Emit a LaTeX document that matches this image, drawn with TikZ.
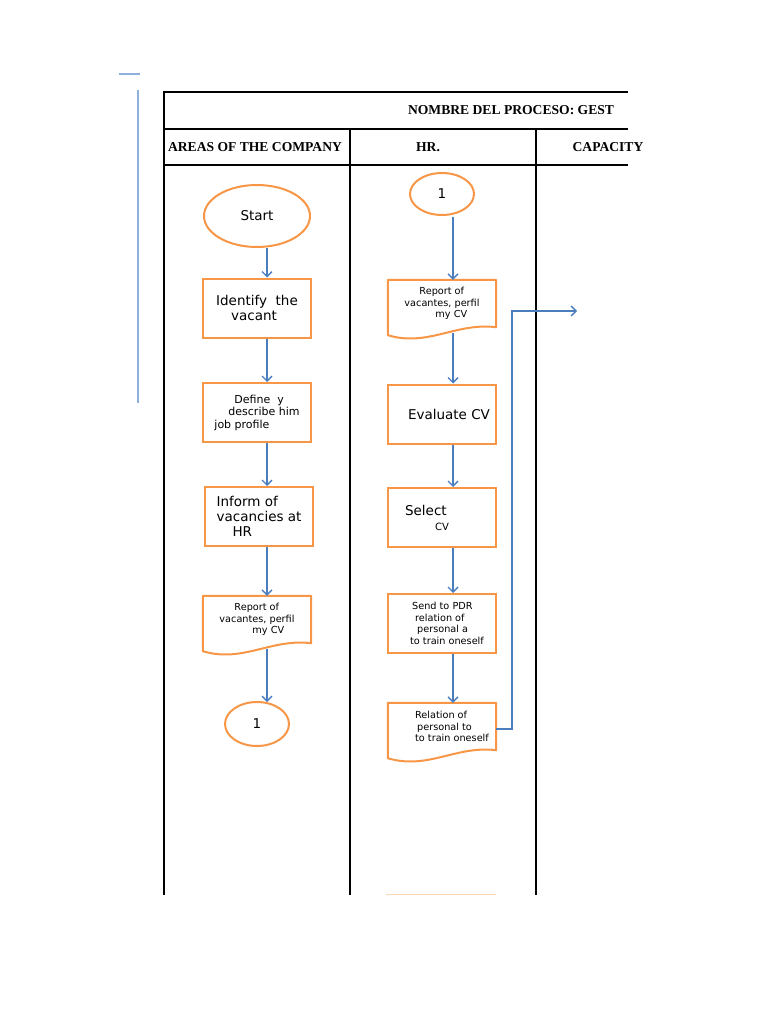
\documentclass[tikz,border=0pt]{standalone}
\usepackage{fontspec}
\newfontfamily\flowfont{DejaVu Sans}
\newfontfamily\headfont{Liberation Serif}
\usetikzlibrary{shapes.geometric,arrows.meta,calc}
\definecolor{boxorange}{HTML}{F79646}
\definecolor{linkblue}{HTML}{4A7EBF}
\definecolor{paleblue}{HTML}{8FB0DA}
\definecolor{paleorange}{HTML}{FCD5B4}
\newcommand{\docoutline}[1]{\draw[docline] ([yshift=-8pt]#1.south west) -- (#1.north west) -- (#1.north east) -- (#1.south east) .. controls ([xshift=-40pt,yshift=5pt]#1.south east) and ([xshift=40pt,yshift=-20pt]#1.south west) .. ([yshift=-8pt]#1.south west) -- cycle;}
\begin{document}
\begin{tikzpicture}[x=1pt,y=-1pt,
 tableline/.style={black,line width=1.8pt},
 heading/.style={font=\headfont\bfseries\fontsize{13.6}{15}\selectfont,inner sep=0},
 procbox/.style={draw=boxorange,line width=2pt,rectangle,minimum width=108pt,minimum height=59pt,inner sep=0,align=left},
 docbox/.style={rectangle,minimum width=108pt,minimum height=47pt,inner sep=0,align=left},
 docline/.style={draw=boxorange,line width=2pt,line join=round},
 terminal/.style={draw=boxorange,line width=2pt,ellipse,inner sep=0},
 bigtext/.style={font=\flowfont\fontsize{13.5}{15}\selectfont},
 midtext/.style={font=\flowfont\fontsize{11}{12.5}\selectfont},
 smalltext/.style={font=\flowfont\fontsize{9.7}{11.7}\selectfont},
 flow/.style={linkblue,line width=1.2pt,-{Straight Barb[length=5pt,width=10pt,line width=1.4pt]}},
 deco/.style={paleblue,line width=1.2pt},
]
\useasboundingbox (0,0) rectangle (768,1024);

% decorative lines at the left
\draw[deco] (119,74) -- (140,74);
\draw[deco] (138,90) -- (138,403);

% table
\draw[tableline] (628,92) -- (164,92) -- (164,895);
\draw[tableline] (164,129) -- (628,129);
\draw[tableline] (164,165) -- (628,165);
\draw[tableline] (350,129) -- (350,895);
\draw[tableline] (536,129) -- (536,895);
\node[heading] (title) at (511,110) {NOMBRE DEL PROCESO: GEST};
\node[heading] (areas) at (255,147) {AREAS OF THE COMPANY};
\node[heading] (hr) at (428,147) {HR.};
\node[heading] (capacity) at (608,147) {CAPACITY};

% left column
\node[terminal,minimum width=106pt,minimum height=62pt,bigtext] (start) at (257,216) {Start};
\node[procbox,bigtext] (identify) at (257,308) {Identify\ \ the\\\hspace*{15pt}vacant};
\node[procbox,midtext] (define) at (257,412.5) {\hspace*{20pt}Define\ \ y\\\hspace*{14pt}describe him\\job profile};
\node[procbox,bigtext] (inform) at (259,516.5) {Inform of\\vacancies at\\\hspace*{16pt}HR};
\node[docbox,smalltext] (report1) at (257,619.5) {\hspace*{15pt}Report of\\vacantes, perfil\\\hspace*{33pt}my CV};
\docoutline{report1}
\node[terminal,minimum width=64pt,minimum height=44pt,bigtext] (link1) at (257,724) {1};

% HR column
\node[terminal,minimum width=64pt,minimum height=42pt,bigtext] (link2) at (442,194) {1};
\node[docbox,smalltext] (report2) at (442,303.5) {\hspace*{15pt}Report of\\vacantes, perfil\\\hspace*{31pt}my CV};
\docoutline{report2}
\node[procbox,bigtext] (evaluate) at (442,414) {\hspace*{14pt}Evaluate CV};
\node[procbox,bigtext] (select) at (442,517.5) {Select\\\hspace*{30pt}{\fontsize{10}{12}\selectfont CV}\hspace*{30pt}};
\node[procbox,smalltext] (send) at (442,623.5) {\hspace*{12pt}Send to PDR\\\hspace*{15pt}relation of\\\hspace*{17pt}personal a\\\hspace*{10pt}to train oneself};
\node[docbox,smalltext] (relation) at (442,726.5) {\hspace*{20pt}Relation of\\\hspace*{22pt}personal to\\\hspace*{20pt}to train oneself};
\docoutline{relation}
\coordinate (capin) at (577,311);

% connectors, left column
\draw[flow] ([xshift=10pt]start.south) -- ([xshift=10pt]identify.north);
\draw[flow] ([xshift=10pt]identify.south) -- ([xshift=10pt]define.north);
\draw[flow] ([xshift=10pt]define.south) -- ([xshift=8pt]inform.north);
\draw[flow] ([xshift=8pt]inform.south) -- ([xshift=10pt]report1.north);
\draw[flow] ([xshift=10pt,yshift=-6pt]report1.south) -- ([xshift=10pt,yshift=-1pt]link1.north);

% connectors, HR column
\draw[flow] ([xshift=11pt,yshift=-1pt]link2.south) -- ([xshift=11pt]report2.north);
\draw[flow] ([xshift=11pt,yshift=-6pt]report2.south) -- ([xshift=11pt]evaluate.north);
\draw[flow] ([xshift=11pt]evaluate.south) -- ([xshift=11pt]select.north);
\draw[flow] ([xshift=11pt]select.south) -- ([xshift=11pt]send.north);
\draw[flow] ([xshift=11pt]send.south) -- ([xshift=11pt]relation.north);
\draw[flow] ([yshift=-2.5pt]relation.east) -| ([xshift=-65pt]capin) -- (capin);

% faint line at the bottom
\draw[paleorange,line width=1pt] (386,894) -- (496,894);
\end{tikzpicture}
\end{document}
